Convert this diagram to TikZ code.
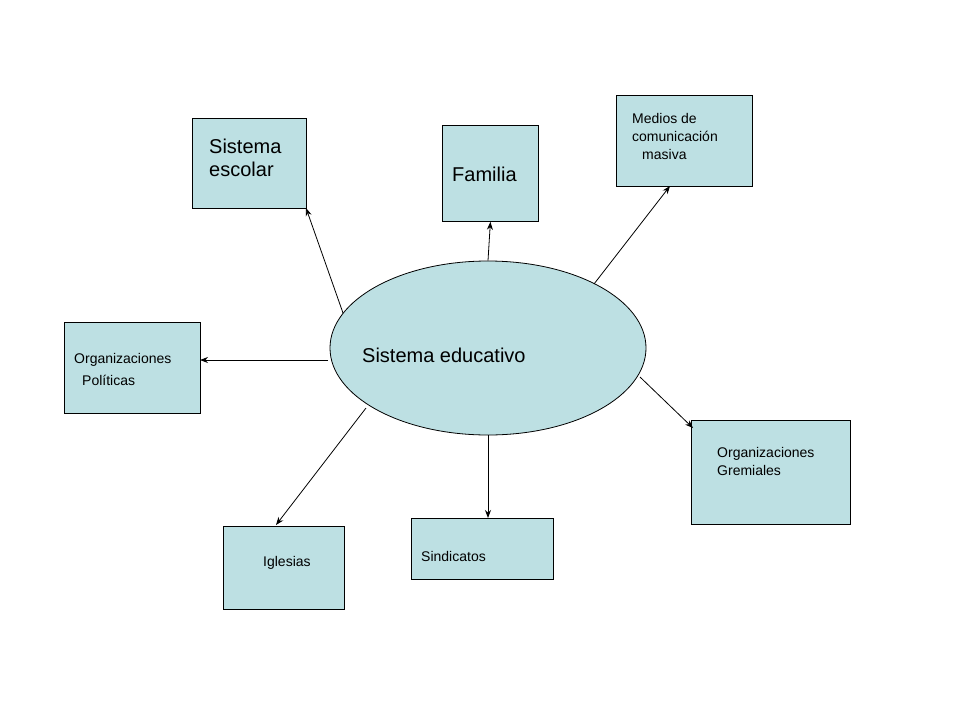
\documentclass[tikz,border=0pt]{standalone}
\usepackage{fontspec}
\setmainfont{Liberation Sans}
\usetikzlibrary{shapes.geometric,arrows.meta}
\definecolor{boxc}{HTML}{BDE0E3}
\begin{document}
\begin{tikzpicture}[x=1pt,y=-1pt,
  box/.style={draw=black,fill=boxc,line width=0.8pt,anchor=north west,inner sep=0pt},
  big/.style={anchor=west,font=\fontsize{20}{23}\selectfont,inner sep=0pt,align=left},
  small/.style={anchor=west,font=\fontsize{14}{18}\selectfont,inner sep=0pt,align=left},
  arr/.style={-{Stealth[length=8pt,width=6pt]},line width=0.8pt}]
\useasboundingbox (0,0) rectangle (960,720);
\node[box,minimum width=114pt,minimum height=90pt] (esc) at (192,118) {};
\node[box,minimum width=96pt,minimum height=96pt] (fam) at (442,125) {};
\node[box,minimum width=136pt,minimum height=91pt] (med) at (616,95) {};
\node[box,minimum width=136pt,minimum height=91pt] (pol) at (64,322) {};
\node[box,minimum width=159pt,minimum height=104pt] (gre) at (691,420) {};
\node[box,minimum width=121pt,minimum height=83pt] (igl) at (223,526) {};
\node[box,minimum width=142pt,minimum height=61pt] (sin) at (411,518) {};
\node[draw=black,fill=boxc,line width=0.8pt,ellipse,minimum width=316pt,minimum height=174pt] (se) at (488,348) {};
\node[big] (tse) at (362,355) {Sistema educativo};
\node[big] (tesc) at (209,158) {Sistema\\escolar};
\node[big] (tfam) at (452,174) {Familia};
\node[small] (tmed) at (632,136) {Medios de\\comunicación\\\hspace*{10pt}masiva};
\node[small] (tpol) at (74,369) {Organizaciones\\[4pt]\hspace*{8pt}Políticas};
\node[small] (tgre) at (717,461) {Organizaciones\\Gremiales};
\node[small] (tigl) at (263,563) {Iglesias};
\node[small] (tsin) at (421,556) {Sindicatos};
\coordinate (a1) at (343,313); \coordinate (b1) at (306,208);
\coordinate (a3) at (594,284); \coordinate (b3) at (670,186);
\coordinate (a4) at (328,360); \coordinate (b4) at (200,360);
\coordinate (a5) at (640,377); \coordinate (b5) at (693,428);
\coordinate (a6) at (366,408); \coordinate (b6) at (276,525);
\draw[arr] (a1) -- (b1);
\draw[arr] (se.north) -- (fam.south);
\draw[arr] (a3) -- (b3);
\draw[arr] (a4) -- (b4);
\draw[arr] (a5) -- (b5);
\draw[arr] (a6) -- (b6);
\draw[arr] (se.south) -- (sin.north -| se.south);
\end{tikzpicture}
\end{document}
